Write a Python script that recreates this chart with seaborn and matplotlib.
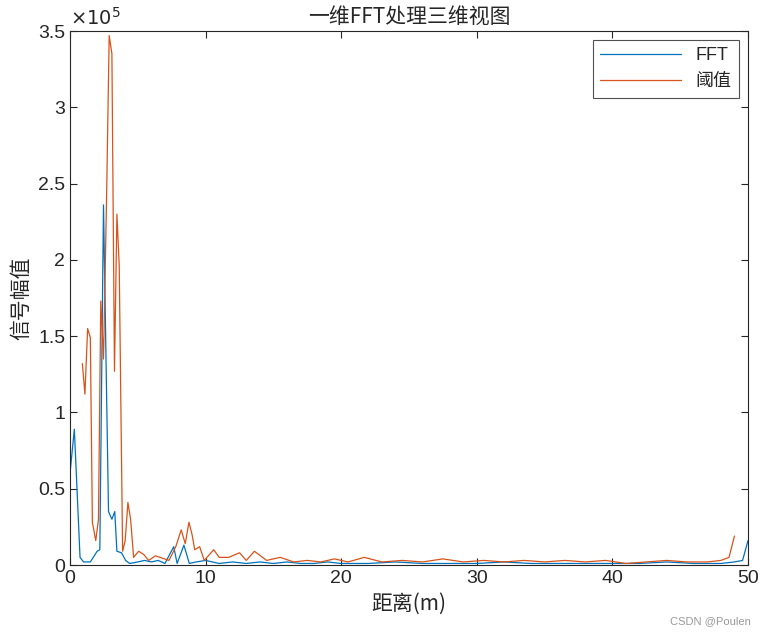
import numpy as np
import pandas as pd
import matplotlib
matplotlib.use("Agg")
import matplotlib.pyplot as plt
import seaborn as sns

# ---- data (values in units of 1e5) ----
fft_x = [0.0, 0.32, 0.74, 1.0, 1.5, 2.0, 2.2, 2.47, 2.84, 3.09, 3.3, 3.46, 3.8, 4.1, 4.4,
         5.0, 5.5, 6.0, 6.5, 7.0, 7.65, 7.9, 8.4, 8.8, 9.3, 10.0, 11.0, 12.0, 13.0, 14.0,
         15.0, 16.0, 17.0, 18.0, 19.0, 20.0, 22.0, 24.0, 26.0, 28.0, 30.0, 32.0, 34.0,
         36.0, 38.0, 40.0, 42.0, 44.0, 46.0, 48.0, 49.0, 49.6, 50.0]
fft_y = [0.60, 0.89, 0.05, 0.02, 0.02, 0.09, 0.10, 2.36, 0.35, 0.30, 0.35, 0.09, 0.08, 0.03, 0.01,
         0.02, 0.03, 0.02, 0.03, 0.01, 0.12, 0.01, 0.13, 0.01, 0.02, 0.03, 0.01, 0.02, 0.01, 0.02,
         0.01, 0.02, 0.01, 0.01, 0.02, 0.01, 0.01, 0.02, 0.01, 0.01, 0.01, 0.02, 0.01,
         0.01, 0.01, 0.01, 0.01, 0.02, 0.01, 0.01, 0.02, 0.03, 0.16]

thr_x = [0.91, 1.1, 1.3, 1.5, 1.65, 1.9, 2.1, 2.27, 2.47, 2.7, 2.89, 3.09, 3.28, 3.46, 3.63,
         3.88, 4.07, 4.27, 4.47, 4.69, 5.06, 5.43, 5.8, 6.3, 7.3, 7.8, 8.2, 8.5, 8.77, 9.0,
         9.2, 9.56, 9.9, 10.6, 11.0, 11.7, 12.5, 13.0, 13.6, 14.5, 15.5, 16.5, 17.5, 18.5,
         19.5, 20.5, 21.7, 23.0, 24.5, 26.0, 27.5, 29.0, 30.5, 32.0, 33.5, 35.0, 36.5,
         38.0, 39.5, 41.0, 42.5, 44.0, 45.5, 47.0, 48.0, 48.6, 49.0]
thr_y = [1.32, 1.12, 1.55, 1.49, 0.28, 0.16, 0.30, 1.73, 1.35, 2.42, 3.47, 3.35, 1.27, 2.30, 1.96,
         0.09, 0.16, 0.41, 0.30, 0.05, 0.09, 0.07, 0.03, 0.06, 0.03, 0.12, 0.23, 0.14, 0.28, 0.20,
         0.10, 0.12, 0.03, 0.10, 0.05, 0.05, 0.08, 0.03, 0.09, 0.03, 0.05, 0.02, 0.03, 0.02,
         0.04, 0.02, 0.05, 0.02, 0.03, 0.02, 0.04, 0.02, 0.03, 0.02, 0.03, 0.02, 0.03,
         0.02, 0.03, 0.01, 0.02, 0.03, 0.02, 0.02, 0.03, 0.05, 0.19]

y_ticks = [0, 0.5, 1, 1.5, 2, 2.5, 3, 3.5]
y_ticklabels = ["0", "0.5", "1", "1.5", "2", "2.5", "3", "3.5"]

df_fft = pd.DataFrame({"x": fft_x, "y": fft_y})
df_thr = pd.DataFrame({"x": thr_x, "y": thr_y})

sns.set_style("ticks")
plt.rcParams["font.family"] = ["Liberation Sans", "Noto Sans CJK SC", "DejaVu Sans"]
plt.rcParams["xtick.direction"] = "in"
plt.rcParams["ytick.direction"] = "in"

fig = plt.figure(figsize=(7.62, 6.32), dpi=100)
ax = fig.add_axes([70 / 762, 1 - 565 / 632, 678 / 762, 534 / 632])

sns.lineplot(data=df_fft, x="x", y="y", ax=ax, color="#0072BD", linewidth=0.9, label="FFT")
sns.lineplot(data=df_thr, x="x", y="y", ax=ax, color="#D95319", linewidth=0.9, label="阈值")

ax.set_xlim(0, 50)
ax.set_ylim(0, 3.5)
ax.set_xticks(np.arange(0, 51, 10))
ax.set_yticks(y_ticks)
ax.set_yticklabels(y_ticklabels)
ax.tick_params(labelsize=14, top=True, right=True, length=5, width=0.8)
for s in ax.spines.values():
    s.set_linewidth(0.8)
    s.set_color("#262626")

# MATLAB-style exponent label
ax.text(0.0, 1.005, r"$\times10^5$", transform=ax.transAxes, fontsize=14,
        ha="left", va="bottom", color="#262626")

cjk = ["Noto Sans CJK SC", "DejaVu Sans"]
ax.set_xlabel("距离(m)", fontsize=15, family=cjk)
ax.set_ylabel("信号幅值", fontsize=15, family=cjk)
ax.set_title("一维FFT处理三维视图", fontsize=15, family=cjk)

leg = ax.legend(loc="upper right", frameon=True, fancybox=False,
                edgecolor="#262626", handlelength=4.5,
                prop={"family": ["Liberation Sans", "Noto Sans CJK SC"], "size": 13})
leg.get_frame().set_linewidth(0.8)

fig.text(0.985, 0.01, "CSDN @Poulen", ha="right", va="bottom", fontsize=8, color="#999999")

fig.savefig("out.png", dpi=100)
